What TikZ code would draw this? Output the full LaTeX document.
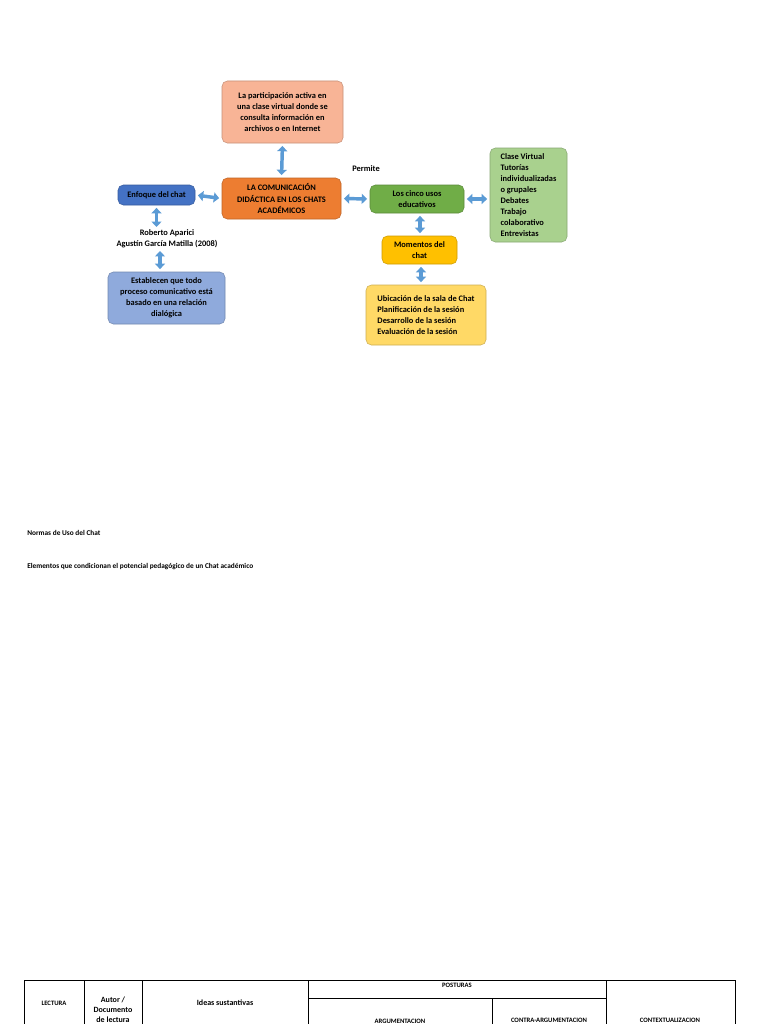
\documentclass[tikz,border=0pt]{standalone}
\usepackage{fontspec}
\setmainfont{Carlito}
\usetikzlibrary{arrows.meta}
\definecolor{arr}{HTML}{5B9BD5}
\tikzset{
 box/.style={rounded corners=4pt,draw=#1!80!black,line width=0.4pt,fill=#1,font=\bfseries\fontsize{6.3}{8.3}\selectfont,align=center,inner sep=2pt},
 dbl/.style={draw=arr,line width=2.6pt,{Triangle[length=4pt,width=7.5pt]}-{Triangle[length=4pt,width=7.5pt]},shorten >=2pt,shorten <=2pt},
 lbl/.style={font=\bfseries\fontsize{6.3}{8.3}\selectfont,inner sep=0pt},
 tb/.style={font=\bfseries\fontsize{6}{7.5}\selectfont,inner sep=0pt,align=center}
}
\definecolor{salmon}{HTML}{F8B496}
\definecolor{orng}{HTML}{ED7D31}
\definecolor{blu}{HTML}{4472C4}
\definecolor{grn}{HTML}{70AD47}
\definecolor{lgrn}{HTML}{A9D18E}
\definecolor{yel}{HTML}{FFC000}
\definecolor{lyel}{HTML}{FFD966}
\definecolor{lblu}{HTML}{8FAADC}
\begin{document}
\begin{tikzpicture}[x=0.75pt,y=-0.75pt]
\useasboundingbox[fill=white] (0,0) rectangle (768,1024);
\node[box=salmon,minimum width=121*0.75pt,minimum height=62*0.75pt] (top) at (282.5,112) {La participación activa en\\una clase virtual donde se\\consulta información en\\archivos o en Internet};
\node[box=orng,minimum width=119*0.75pt,minimum height=41*0.75pt] (cen) at (281.5,198.5) {LA COMUNICACIÓN\\DIDÁCTICA EN LOS CHATS\\ACADÉMICOS};
\node[box=blu,minimum width=77*0.75pt,minimum height=20*0.75pt] (enf) at (156.5,195) {Enfoque del chat};
\node[box=grn,minimum width=94*0.75pt,minimum height=28*0.75pt] (usos) at (417,199) {Los cinco usos\\educativos};
\node[box=lgrn,minimum width=77*0.75pt,minimum height=94*0.75pt,align=left] (lista) at (528.5,195) {Clase Virtual\\Tutorías\\individualizadas\\o grupales\\Debates\\Trabajo\\colaborativo\\Entrevistas};
\node[box=yel,minimum width=75*0.75pt,minimum height=28*0.75pt] (mom) at (419.5,250) {Momentos del\\chat};
\node[box=lyel,minimum width=120*0.75pt,minimum height=60*0.75pt,align=left] (ses) at (426,315) {Ubicación de la sala de Chat\\Planificación de la sesión\\Desarrollo de la sesión\\Evaluación de la sesión};
\node[box=lblu,minimum width=117*0.75pt,minimum height=52*0.75pt] (est) at (166.5,298) {Establecen que todo\\proceso comunicativo está\\basado en una relación\\dialógica};
\node[lbl,align=center] (rob) at (167,239) {Roberto Aparici\\Agustín García Matilla (2008)};
\node[lbl] (perm) at (366,169) {Permite};
\draw[dbl] (top.south) -- (cen.north);
\draw[dbl] (enf.east) -- (cen.west);
\draw[dbl] (cen.east) -- (usos.west);
\draw[dbl] (usos.east) -- (lista.west|-usos.east);
\draw[dbl] (enf.south) -- (enf.south|-rob.north);
\draw[dbl] (rob.south-|160,0) -- (est.north-|160,0);
\draw[dbl] (usos.south-|420,0) -- (mom.north-|420,0);
\draw[dbl] (mom.south-|421,0) -- (ses.north-|421,0);
\node[lbl,anchor=west] (normas) at (27,533) {\fontsize{5.5}{7}\selectfont Normas de Uso del Chat};
\node[lbl,anchor=west] (elem) at (27,567) {\fontsize{5.5}{7}\selectfont Elementos que condicionan el potencial pedagógico de un Chat académico};
% table
\draw[line width=0.6pt] (24,1030) -- (24,980) -- (735,980) -- (735,1030);
\foreach \x in {84,142,308,606} \draw[line width=0.6pt] (\x,980) -- (\x,1030);
\draw[line width=0.6pt] (492,998) -- (492,1030);
\draw[line width=0.6pt] (308,998) -- (606,998);
\node[tb] (t1) at (54,1003) {\fontsize{5}{6}\selectfont LECTURA};
\node[tb,anchor=north] (t2) at (113,997) {Autor /\\Documento\\de lectura};
\node[tb] (t3) at (225,1003) {Ideas sustantivas};
\node[tb] (t4) at (457,985) {\fontsize{5}{6}\selectfont POSTURAS};
\node[tb] (t5) at (400,1021) {\fontsize{5}{6}\selectfont ARGUMENTACION};
\node[tb] (t6) at (549,1020) {\fontsize{5}{6}\selectfont CONTRA-ARGUMENTACION};
\node[tb] (t7) at (670,1020) {\fontsize{5}{6}\selectfont CONTEXTUALIZACION};
\end{tikzpicture}
\end{document}
